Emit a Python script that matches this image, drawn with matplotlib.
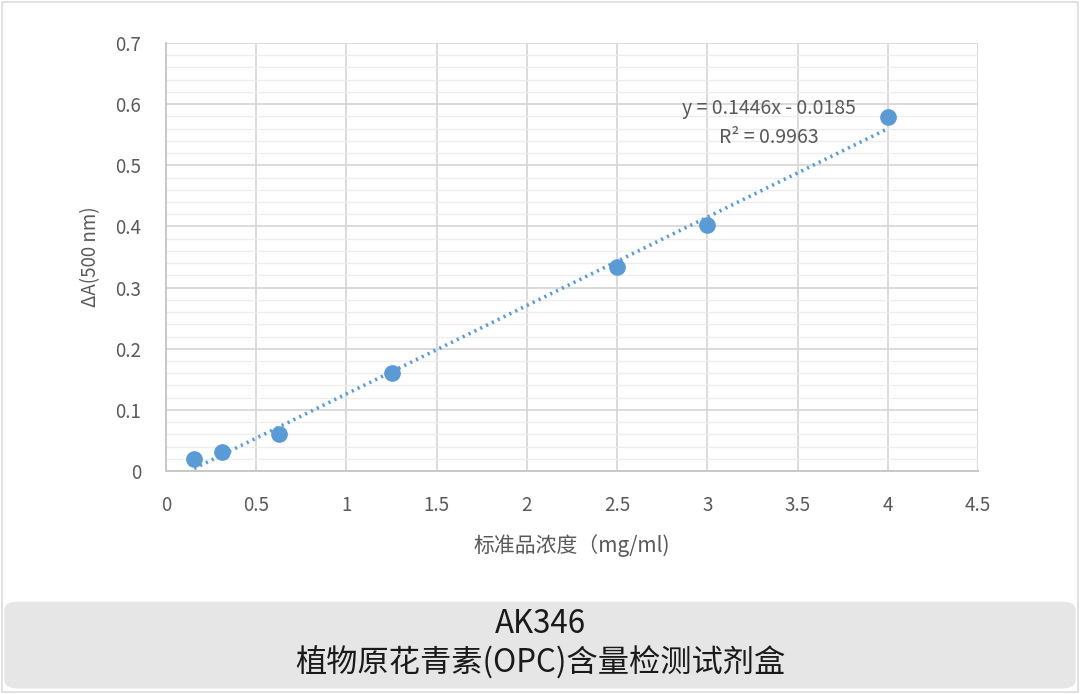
import matplotlib.pyplot as plt
from matplotlib.patches import FancyBboxPatch
import numpy as np

plt.rcParams['font.family'] = ['Noto Sans CJK SC', 'DejaVu Sans']

# 标准品浓度 (mg/ml) 与 ΔA(500 nm)
concentration = [0.15625, 0.3125, 0.625, 1.25, 2.5, 3.0, 4.0]
delta_a = [0.019, 0.031, 0.060, 0.161, 0.333, 0.402, 0.579]

# 线性趋势线系数
slope = 0.1446
intercept = -0.0185

x_ticks = [0, 0.5, 1, 1.5, 2, 2.5, 3, 3.5, 4, 4.5]
x_tick_labels = ['0', '0.5', '1', '1.5', '2', '2.5', '3', '3.5', '4', '4.5']
y_ticks = [0, 0.1, 0.2, 0.3, 0.4, 0.5, 0.6, 0.7]
y_tick_labels = ['0', '0.1', '0.2', '0.3', '0.4', '0.5', '0.6', '0.7']
y_minor = np.arange(0, 0.7001, 0.02)

equation_text = 'y = 0.1446x - 0.0185'
r2_text = 'R² = 0.9963'
product_code = 'AK346'
product_name = '植物原花青素(OPC)含量检测试剂盒'

blue = '#5b9bd5'
gray_text = '#595959'

fig = plt.figure(figsize=(10.8, 6.94), dpi=100)
fig.patch.set_facecolor('white')

# 外框
fig.patches.append(FancyBboxPatch((0.002, 0.003), 0.996, 0.994, boxstyle='square,pad=0',
                                  transform=fig.transFigure, facecolor='none',
                                  edgecolor='#dcdcdc', linewidth=1.2))

ax = fig.add_axes([0.1537, 0.3213, 0.7519, 0.6167])

x_fit = np.array([concentration[0], concentration[-1]])
ax.plot(x_fit, slope * x_fit + intercept, linestyle=(0, (0.6, 1.2)), color=blue,
        linewidth=2.6, zorder=3)
ax.plot(concentration, delta_a, 'o', color=blue, markersize=11, zorder=4)

ax.set_xlim(0, 4.5)
ax.set_ylim(0, 0.7)
ax.set_xticks(x_ticks)
ax.set_xticklabels(x_tick_labels)
ax.set_yticks(y_ticks)
ax.set_yticklabels(y_tick_labels)
ax.set_yticks(y_minor, minor=True)

ax.grid(which='major', color='#d4d4d4', linewidth=1.2)
ax.grid(which='minor', axis='y', color='#ececec', linewidth=0.9)
ax.set_axisbelow(True)
for side in ['top', 'right']:
    ax.spines[side].set_visible(False)
for side in ['left', 'bottom']:
    ax.spines[side].set_color('#c8c8c8')
    ax.spines[side].set_linewidth(1.4)
ax.tick_params(which='both', length=0, labelsize=13.5, colors=gray_text)
ax.tick_params(axis='x', pad=17)
ax.tick_params(axis='y', pad=18)

ax.set_xlabel('标准品浓度（mg/ml)', fontsize=15, color=gray_text, labelpad=13)
ax.set_ylabel('ΔA(500 nm)', fontsize=13.5, color=gray_text, labelpad=10)

ax.text(3.34, 0.593, equation_text, fontsize=14, color=gray_text, ha='center', va='center')
ax.text(3.34, 0.5455, r2_text, fontsize=14, color=gray_text, ha='center', va='center')

# 底部灰色标题栏
fig.patches.append(FancyBboxPatch((0.004, 0.008), 0.992, 0.125,
                                  boxstyle='round,pad=0,rounding_size=0.012',
                                  transform=fig.transFigure, facecolor='#e6e6e6',
                                  edgecolor='none'))
fig.text(0.5, 0.101, product_code, fontsize=22.5, color='#1a1a1a', ha='center', va='center')
fig.text(0.5, 0.045, product_name, fontsize=22.5, color='#1a1a1a', ha='center', va='center')

fig.savefig('out.png', dpi=100)
